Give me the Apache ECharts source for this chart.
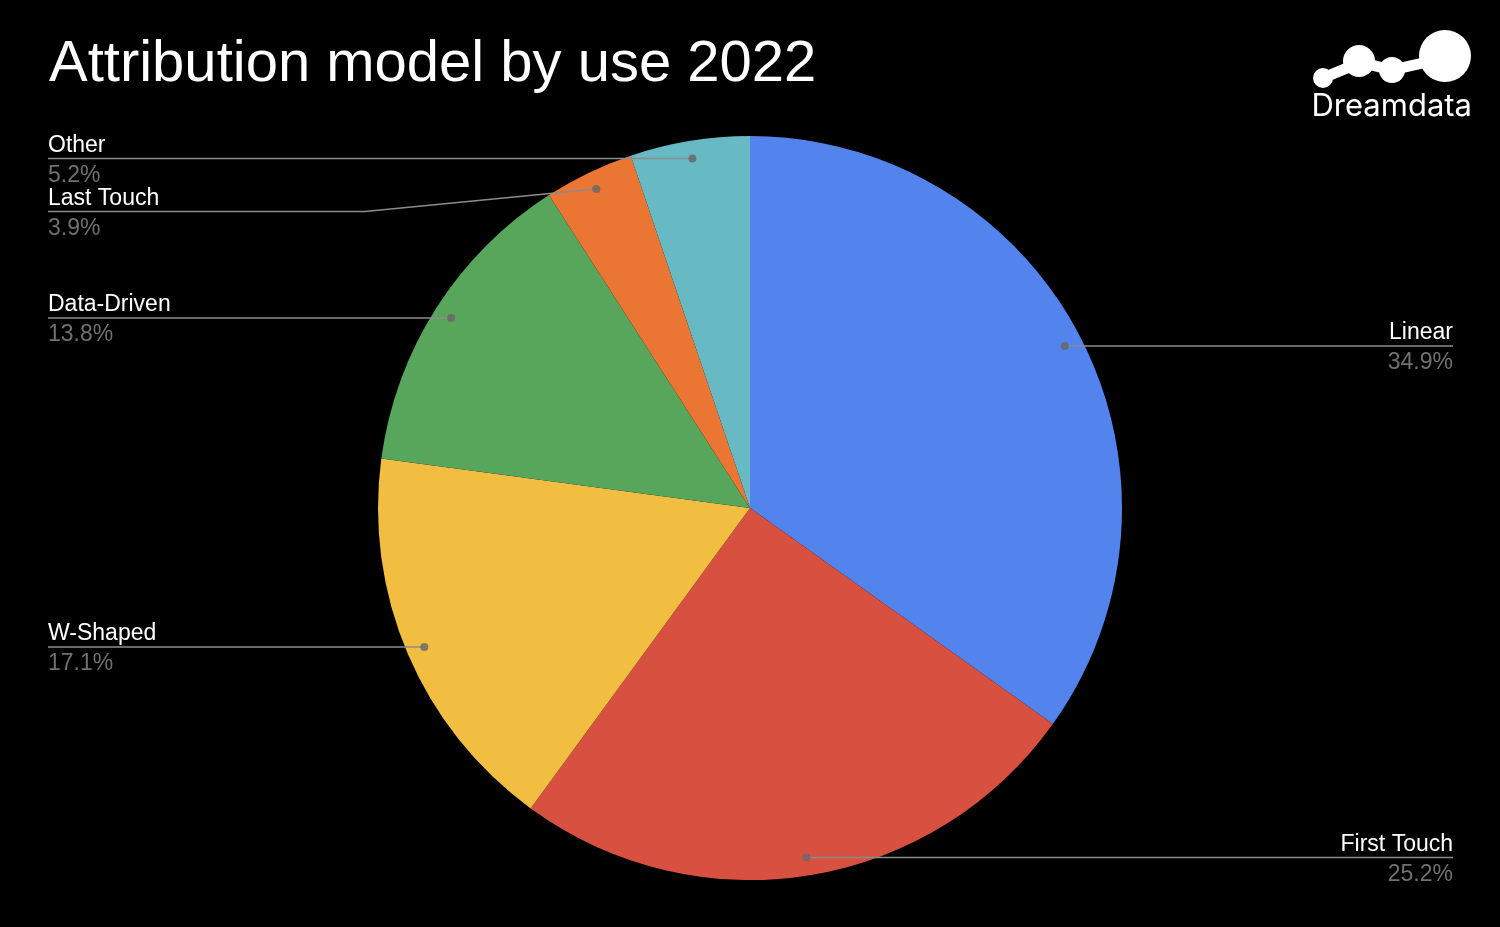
<!DOCTYPE html>
<html>
<head>
<meta charset="utf-8">
<script src="https://cdn.jsdelivr.net/npm/echarts@6/dist/echarts.min.js"></script>
<style>
html,body{margin:0;padding:0;background:#000;}
#c{width:1500px;height:927px;}
</style>
</head>
<body>
<div id="c"></div>
<script>
const categories = ['Linear', 'First Touch', 'W-Shaped', 'Data-Driven', 'Last Touch', 'Other'];
const values = [34.9, 25.2, 17.1, 13.8, 3.9, 5.2];
const colors = ['#5383EC', '#D85140', '#F1BE42', '#58A55C', '#EB7532', '#67BAC3'];
const titleText = 'Attribution model by use 2022';

const CY = 508, R = 372, DOT_FRAC = 0.952;
const LEFT_X = 48, RIGHT_X = 1453, MIN_GAP = 53, TEXT_SHIFT = 2;
const FONT = 'Liberation Sans, Arial, sans-serif';

const total = values.reduce((a, b) => a + b, 0);
const mids = [];
let acc = 0;
values.forEach(v => { mids.push(acc + v / 2); acc += v; });

const chart = echarts.init(document.getElementById('c'));

function dotPos(i) {
  const th = mids[i] / total * Math.PI * 2;
  const cx = chart.getWidth() / 2;
  const d = R * DOT_FRAC;
  return [cx + d * Math.sin(th), CY - d * Math.cos(th)];
}
function labelYs() {
  const ys = values.map((v, i) => dotPos(i)[1]);
  const sides = values.map((v, i) => dotPos(i)[0] > chart.getWidth() / 2 ? 1 : -1);
  [1, -1].forEach(s => {
    const idx = values.map((v, i) => i).filter(i => sides[i] === s).sort((a, b) => ys[a] - ys[b]);
    for (let k = 1; k < idx.length; k++) {
      if (ys[idx[k]] < ys[idx[k - 1]] + MIN_GAP) ys[idx[k]] = ys[idx[k - 1]] + MIN_GAP;
    }
  });
  return { ys, sides };
}

const option = {
  backgroundColor: '#000',
  title: {
    text: titleText, left: 44, top: 31,
    textStyle: { color: '#fff', fontSize: 58, fontWeight: 'normal', fontFamily: FONT }
  },
  polar: { center: ['50%', CY], radius: R },
  angleAxis: { type: 'value', min: 0, max: total, startAngle: 90, clockwise: true, show: false },
  radiusAxis: { type: 'value', min: 0, max: 1, show: false },
  graphic: [
    { type: 'line', shape: { x1: 1323, y1: 78, x2: 1359, y2: 63 }, style: { stroke: '#fff', lineWidth: 11, lineCap: 'round' } },
    { type: 'line', shape: { x1: 1359, y1: 62, x2: 1392, y2: 70 }, style: { stroke: '#fff', lineWidth: 11, lineCap: 'round' } },
    { type: 'line', shape: { x1: 1392, y1: 70, x2: 1445, y2: 58 }, style: { stroke: '#fff', lineWidth: 11, lineCap: 'round' } },
    { type: 'circle', shape: { cx: 1323, cy: 78, r: 10 }, style: { fill: '#fff' } },
    { type: 'circle', shape: { cx: 1359, cy: 61, r: 16 }, style: { fill: '#fff' } },
    { type: 'circle', shape: { cx: 1392, cy: 70, r: 13 }, style: { fill: '#fff' } },
    { type: 'circle', shape: { cx: 1445, cy: 56, r: 26 }, style: { fill: '#fff' } },
    { type: 'text', right: 28, top: 91, style: { text: 'Dreamdata', fill: '#fff', font: '400 31px Inter, Lato, sans-serif' } }
  ],
  series: [
    {
      type: 'pie',
      z: 2,
      center: ['50%', CY],
      radius: R,
      startAngle: 90,
      clockwise: true,
      silent: true,
      animation: false,
      data: categories.map((c, i) => ({ name: c, value: values[i], itemStyle: { color: colors[i] } })),
      label: { show: false },
      labelLine: { show: false }
    },
    {
      type: 'pie',
      z: 3,
      center: ['50%', CY],
      radius: R,
      startAngle: 90,
      clockwise: true,
      silent: true,
      animation: false,
      data: categories.map((c, i) => ({ name: c, value: values[i], itemStyle: { color: 'rgba(0,0,0,0)' } })),
      label: {
        show: true,
        formatter: p => '{n|' + p.name + '}\n{p|' + p.value + '%}',
        rich: {
          n: { color: '#ffffff', fontSize: 23, lineHeight: 30, fontFamily: FONT },
          p: { color: '#707070', fontSize: 23, lineHeight: 30, fontFamily: FONT }
        }
      },
      labelLine: { show: true, lineStyle: { color: '#8c8c8c', width: 1.5 } },
      labelLayout: function (p) {
        const i = p.dataIndex;
        const { ys, sides } = labelYs();
        const d = dotPos(i);
        const y = ys[i];
        if (sides[i] < 0) {
          const bx = Math.min(d[0], 365);
          return { x: LEFT_X, y: y + TEXT_SHIFT, align: 'left', verticalAlign: 'middle',
            labelLinePoints: [[d[0], d[1]], [bx, y], [LEFT_X, y]] };
        } else {
          const bx = Math.max(d[0], 1135);
          return { x: RIGHT_X, y: y + TEXT_SHIFT, align: 'right', verticalAlign: 'middle',
            labelLinePoints: [[d[0], d[1]], [bx, y], [RIGHT_X, y]] };
        }
      }
    },
    {
      type: 'scatter',
      coordinateSystem: 'polar',
      symbolSize: 8,
      z: 10,
      silent: true,
      animation: false,
      itemStyle: { color: '#666666' },
      data: mids.map(m => [DOT_FRAC, m])
    }
  ]
};
chart.setOption(option);
</script>
</body>
</html>
